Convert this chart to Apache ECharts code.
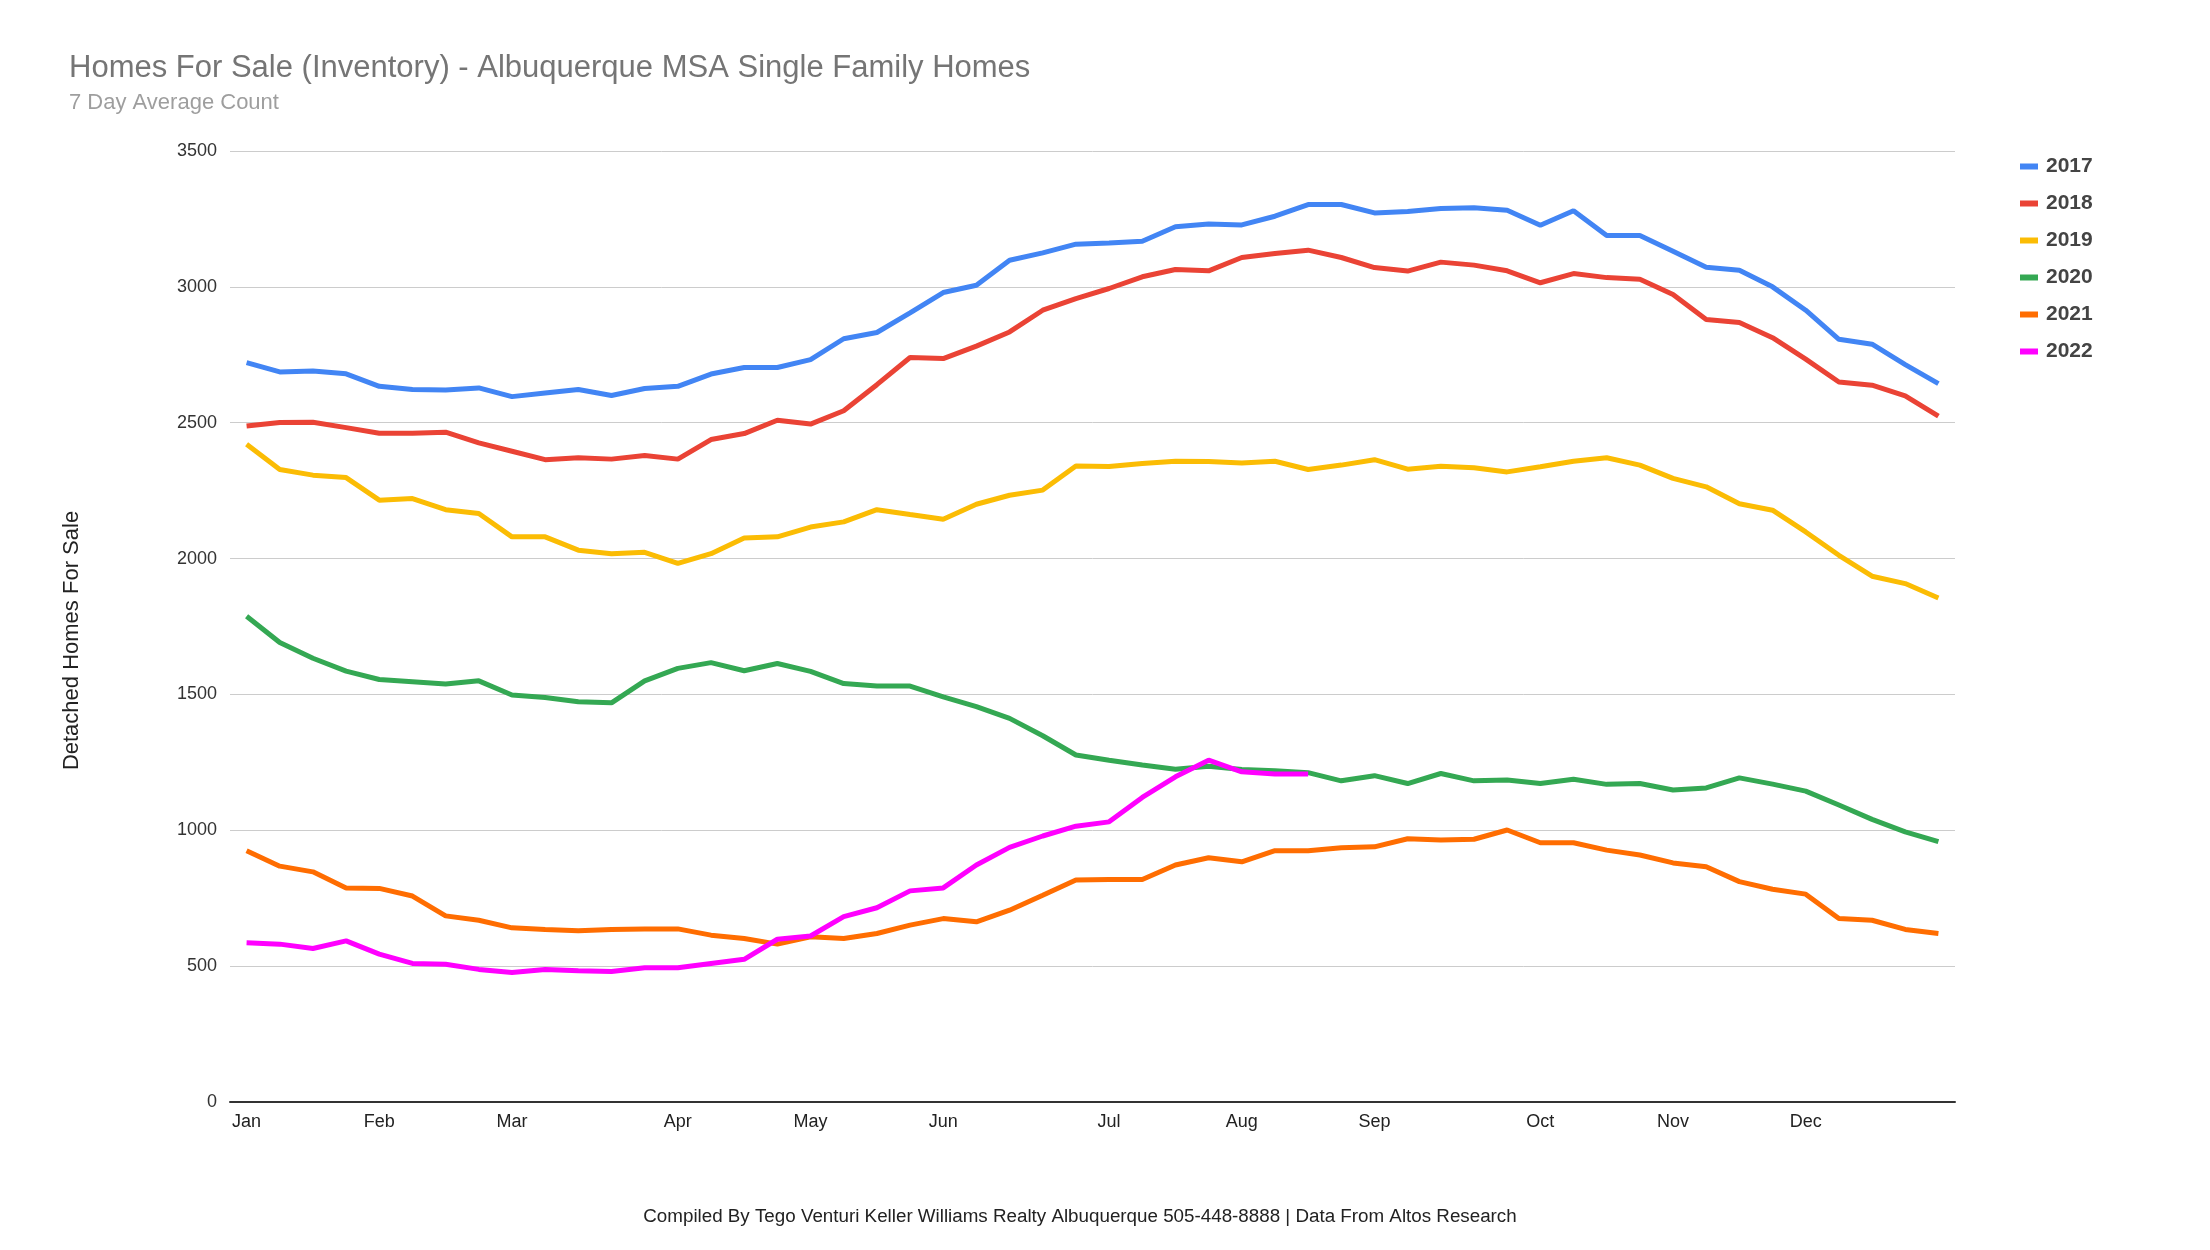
<!DOCTYPE html>
<html>
<head>
<meta charset="utf-8">
<title>Homes For Sale (Inventory)</title>
<script src="https://cdn.jsdelivr.net/npm/echarts@6/dist/echarts.min.js"></script>
<style>
    html, body { margin: 0; padding: 0; background: #fff; }
    #chart { width: 2210px; height: 1250px; }
</style>
</head>
<body>
<div id="chart"></div>
<script>
// weekly 7 day average count, one value per week
var months = ['Jan', 'Feb', 'Mar', 'Apr', 'May', 'Jun', 'Jul', 'Aug', 'Sep', 'Oct', 'Nov', 'Dec'];
var monthStartWeek = [0, 4, 8, 13, 17, 21, 26, 30, 34, 39, 43, 47];
var years = ['2017', '2018', '2019', '2020', '2021', '2022'];

var y2017 = [2721, 2687, 2690, 2680, 2634, 2622, 2620, 2628, 2596, 2609, 2622, 2600, 2626, 2634, 2679, 2703, 2703, 2732, 2809, 2832, 2904, 2979, 3006, 3098, 3125, 3157, 3161, 3168, 3221, 3231, 3228, 3260, 3303, 3303, 3272, 3277, 3288, 3291, 3282, 3227, 3280, 3189, 3189, 3131, 3072, 3061, 3000, 2914, 2807, 2789, 2714, 2644];
var y2018 = [2488, 2501, 2502, 2482, 2461, 2461, 2465, 2426, 2395, 2364, 2371, 2366, 2379, 2366, 2438, 2460, 2509, 2495, 2544, 2640, 2740, 2736, 2782, 2834, 2914, 2957, 2994, 3037, 3064, 3059, 3108, 3123, 3135, 3108, 3071, 3058, 3091, 3080, 3059, 3015, 3049, 3034, 3028, 2972, 2880, 2869, 2813, 2734, 2650, 2638, 2599, 2524];
var y2019 = [2421, 2328, 2307, 2298, 2215, 2221, 2180, 2166, 2080, 2080, 2031, 2018, 2023, 1982, 2018, 2076, 2080, 2116, 2135, 2180, 2162, 2145, 2200, 2233, 2252, 2341, 2339, 2350, 2358, 2357, 2352, 2358, 2328, 2344, 2364, 2329, 2340, 2334, 2319, 2338, 2358, 2371, 2344, 2295, 2264, 2202, 2178, 2098, 2012, 1935, 1908, 1855];
var y2020 = [1788, 1691, 1633, 1586, 1555, 1547, 1538, 1550, 1498, 1489, 1473, 1469, 1550, 1596, 1617, 1587, 1614, 1585, 1540, 1531, 1531, 1491, 1455, 1412, 1348, 1277, 1258, 1240, 1225, 1236, 1224, 1219, 1212, 1182, 1201, 1172, 1209, 1182, 1185, 1172, 1188, 1169, 1172, 1148, 1156, 1193, 1170, 1144, 1093, 1040, 994, 958];
var y2021 = [925, 868, 847, 788, 786, 758, 685, 669, 641, 635, 630, 635, 637, 637, 614, 602, 581, 608, 602, 620, 651, 675, 663, 706, 761, 817, 819, 819, 872, 899, 884, 925, 925, 936, 939, 969, 964, 967, 1001, 954, 954, 927, 909, 880, 866, 811, 783, 765, 675, 669, 635, 620];
var y2022 = [586, 581, 565, 593, 544, 510, 507, 488, 477, 488, 483, 480, 494, 494, 510, 525, 599, 611, 682, 715, 777, 788, 872, 937, 979, 1015, 1031, 1121, 1197, 1258, 1215, 1207, 1207];

var colors = ['#4285f4', '#ea4335', '#fbbc04', '#34a853', '#ff6d01', '#ff00ff'];
var font = '"Liberation Sans", Arial, sans-serif';

var weeks = [];
for (var i = 0; i < 52; i++) {
    weeks.push('W' + (i + 1));
}

var seriesData = [y2017, y2018, y2019, y2020, y2021, y2022];
var series = [];
for (var s = 0; s < years.length; s++) {
    series.push({
        name: years[s],
        type: 'line',
        data: seriesData[s],
        symbol: 'none',
        lineStyle: { width: 5 },
        itemStyle: { color: colors[s] },
        animation: false
    });
}

var myChart = echarts.init(document.getElementById('chart'));
var option = {
    backgroundColor: '#fff',
    color: colors,
    textStyle: { fontFamily: font },
    title: [
        {
            text: 'Homes For Sale (Inventory) - Albuquerque MSA Single Family Homes',
            subtext: '7 Day Average Count',
            left: 64,
            top: 48,
            itemGap: 8,
            textStyle: { fontFamily: font, fontSize: 31, fontWeight: 'normal', color: '#757575' },
            subtextStyle: { fontFamily: font, fontSize: 22, color: '#9e9e9e' }
        },
        {
            text: 'Compiled By Tego Venturi Keller Williams Realty Albuquerque 505-448-8888 | Data From Altos Research',
            left: 1075,
            top: 1202,
            textAlign: 'center',
            textStyle: { fontFamily: font, fontSize: 18.8, fontWeight: 'normal', color: '#222' }
        }
    ],
    legend: {
        orient: 'vertical',
        left: 2015,
        top: 151,
        icon: 'rect',
        itemWidth: 18,
        itemHeight: 6,
        itemGap: 16,
        data: years,
        textStyle: { fontFamily: font, fontSize: 21, fontWeight: 'bold', color: '#444', padding: [0, 0, 0, 3] }
    },
    grid: { left: 230, right: 255, top: 151, bottom: 148 },
    xAxis: {
        type: 'category',
        data: weeks,
        boundaryGap: true,
        axisTick: { show: false },
        axisLine: { lineStyle: { color: '#333', width: 2 } },
        axisLabel: {
            interval: 0,
            margin: 11,
            fontSize: 18,
            color: '#222',
            formatter: function (v, idx) {
                var m = monthStartWeek.indexOf(idx);
                return m >= 0 ? months[m] : '';
            }
        }
    },
    yAxis: {
        type: 'value',
        min: 0,
        max: 3500,
        interval: 500,
        name: 'Detached Homes For Sale',
        nameLocation: 'middle',
        nameGap: 147,
        nameTextStyle: { fontFamily: font, fontSize: 22, color: '#222', padding: [0, 28, 0, 0] },
        axisLine: { show: false },
        axisTick: { show: false },
        axisLabel: {
            margin: 13,
            fontSize: 18,
            color: '#333',
            formatter: function (v) { return String(v); }
        },
        splitLine: { lineStyle: { color: '#cccccc', width: 1 } }
    },
    series: series
};
myChart.setOption(option);
</script>
</body>
</html>
